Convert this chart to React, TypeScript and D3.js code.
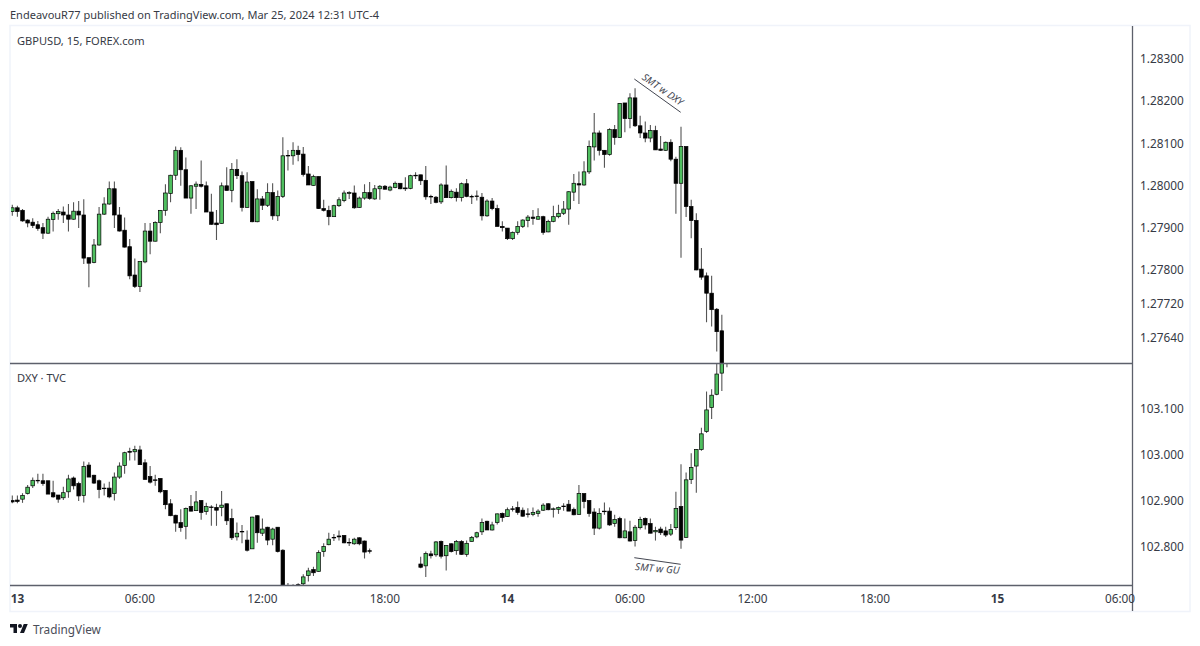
import * as d3 from "d3";
import React, { useEffect, useRef } from "react";

const gbpOpen = [
  1.27939, 1.27948, 1.27942, 1.27919, 1.27914, 1.27908, 1.27901, 1.27888, 1.2792, 1.27934,
  1.27938, 1.27931, 1.27921, 1.2794, 1.27931, 1.2783, 1.27819, 1.2786, 1.27933, 1.27957,
  1.27993, 1.27931, 1.27895, 1.27856, 1.27789, 1.27762, 1.2782, 1.27893, 1.27869, 1.27913,
  1.27942, 1.27982, 1.28025, 1.28084, 1.28038, 1.27971, 1.27999, 1.28003, 1.28, 1.27938,
  1.27912, 1.27911, 1.28, 1.27989, 1.28039, 1.28024, 1.27949, 1.2801, 1.27915, 1.27969,
  1.27954, 1.27984, 1.27929, 1.27975, 1.28072, 1.28071, 1.28084, 1.28075, 1.28028, 1.28001,
  1.28022, 1.27946, 1.27942, 1.27927, 1.27953, 1.27965, 1.27982, 1.27983, 1.27949, 1.27971,
  1.27984, 1.27969, 1.27993, 1.27999, 1.2799, 1.27996, 1.28006, 1.27995, 1.27994, 1.28025,
  1.28026, 1.28013, 1.27975, 1.27973, 1.27962, 1.28002, 1.27972, 1.27985, 1.27972, 1.28005,
  1.27974, 1.27976, 1.27973, 1.27929, 1.27964, 1.27946, 1.27904, 1.279, 1.27875, 1.2789,
  1.27904, 1.27918, 1.27926, 1.27921, 1.27927, 1.27891, 1.27916, 1.27927, 1.27935, 1.27945,
  1.27985, 1.28005, 1.28002, 1.28033, 1.28092, 1.28125, 1.28084, 1.28074, 1.28133, 1.28114,
  1.28196, 1.28159, 1.28208, 1.28142, 1.28125, 1.28113, 1.28131, 1.28087, 1.28084, 1.28103,
  1.28063, 1.28006, 1.28093, 1.27951, 1.27918, 1.27803, 1.27787, 1.27746, 1.27708, 1.27657,
];
const gbpHigh = [
  1.27955, 1.27953, 1.27945, 1.27921, 1.27923, 1.27917, 1.27912, 1.27927, 1.27939, 1.27945,
  1.27951, 1.27957, 1.27961, 1.27964, 1.27968, 1.2783, 1.27874, 1.2795, 1.27973, 1.2801,
  1.2801, 1.2795, 1.27925, 1.27874, 1.27828, 1.27821, 1.27912, 1.27912, 1.27916, 1.27943,
  1.28004, 1.28026, 1.28093, 1.28091, 1.28067, 1.28002, 1.2801, 1.2806, 1.2801, 1.27981,
  1.27943, 1.28008, 1.28044, 1.28054, 1.28063, 1.28034, 1.28032, 1.2801, 1.27992, 1.27976,
  1.28006, 1.28006, 1.27989, 1.28115, 1.28085, 1.28103, 1.28095, 1.28092, 1.28047, 1.28026,
  1.28022, 1.27967, 1.27953, 1.27955, 1.27973, 1.27989, 1.27987, 1.28001, 1.27975, 1.28004,
  1.28009, 1.28002, 1.28002, 1.28002, 1.28, 1.2801, 1.28006, 1.2802, 1.28026, 1.28032,
  1.28026, 1.28047, 1.27979, 1.27976, 1.28006, 1.28048, 1.27991, 1.27994, 1.28008, 1.28016,
  1.27979, 1.27989, 1.27983, 1.27968, 1.27971, 1.27955, 1.27916, 1.279, 1.27892, 1.27916,
  1.27921, 1.27931, 1.27943, 1.27947, 1.27929, 1.2792, 1.27953, 1.27955, 1.27964, 1.27987,
  1.28028, 1.28034, 1.28058, 1.28107, 1.28172, 1.28131, 1.28085, 1.28136, 1.28144, 1.28196,
  1.28196, 1.28219, 1.28231, 1.28166, 1.28152, 1.28144, 1.28142, 1.28118, 1.28105, 1.2811,
  1.28069, 1.2814, 1.28093, 1.27967, 1.27935, 1.27853, 1.27795, 1.27787, 1.27711, 1.27695,
];
const gbpLow = [
  1.27929, 1.27927, 1.27915, 1.27902, 1.279, 1.27894, 1.27874, 1.27886, 1.27892, 1.2792,
  1.27912, 1.27892, 1.2792, 1.279, 1.27815, 1.2776, 1.27817, 1.27858, 1.27931, 1.27955,
  1.279, 1.27892, 1.27854, 1.27779, 1.27758, 1.27749, 1.27817, 1.27838, 1.27868, 1.27888,
  1.27929, 1.27961, 1.28014, 1.28, 1.27971, 1.27934, 1.27945, 1.27996, 1.27938, 1.27908,
  1.27872, 1.2791, 1.27989, 1.27961, 1.28016, 1.27939, 1.27949, 1.27914, 1.27914, 1.27943,
  1.2795, 1.2792, 1.27917, 1.27971, 1.28036, 1.2805, 1.28058, 1.28022, 1.28002, 1.28,
  1.27945, 1.27939, 1.27907, 1.27926, 1.2795, 1.27961, 1.27969, 1.27946, 1.27948, 1.27967,
  1.27967, 1.27967, 1.27967, 1.27991, 1.27987, 1.27994, 1.27992, 1.27988, 1.27992, 1.28016,
  1.28002, 1.27967, 1.27957, 1.27959, 1.27957, 1.27971, 1.2797, 1.27963, 1.27963, 1.27973,
  1.27957, 1.27965, 1.27918, 1.27927, 1.27942, 1.27904, 1.27892, 1.27872, 1.27872, 1.27884,
  1.279, 1.27902, 1.27908, 1.2792, 1.27884, 1.2789, 1.27914, 1.27923, 1.27931, 1.27908,
  1.27964, 1.27957, 1.28, 1.28028, 1.2806, 1.28072, 1.28043, 1.28071, 1.28097, 1.28114,
  1.28127, 1.28136, 1.28139, 1.28113, 1.28103, 1.28103, 1.28085, 1.28083, 1.28083, 1.28058,
  1.27934, 1.2783, 1.27926, 1.27876, 1.278, 1.27778, 1.27677, 1.27667, 1.27608, 1.2757,
];
const gbpClose = [
  1.27948, 1.27939, 1.27917, 1.27912, 1.27906, 1.27899, 1.27888, 1.27921, 1.27935, 1.27939,
  1.27931, 1.27921, 1.2794, 1.27931, 1.27829, 1.27817, 1.2786, 1.27933, 1.27957, 1.27993,
  1.27931, 1.27893, 1.27855, 1.27787, 1.27762, 1.27821, 1.27893, 1.27869, 1.27913, 1.27942,
  1.27983, 1.28025, 1.28084, 1.28038, 1.27971, 1.28, 1.28004, 1.27999, 1.27938, 1.27909,
  1.27908, 1.28, 1.27989, 1.28039, 1.28024, 1.27949, 1.28009, 1.27915, 1.27969, 1.27954,
  1.27984, 1.27929, 1.27975, 1.28071, 1.28071, 1.28084, 1.28074, 1.28027, 1.28002, 1.28022,
  1.27946, 1.27942, 1.27927, 1.27953, 1.27967, 1.27983, 1.27984, 1.27948, 1.27971, 1.27984,
  1.2797, 1.27993, 1.27999, 1.27992, 1.27997, 1.28006, 1.27993, 1.27993, 1.28024, 1.28024,
  1.28012, 1.27974, 1.27974, 1.27961, 1.28002, 1.27972, 1.27987, 1.27972, 1.28005, 1.27975,
  1.27975, 1.27975, 1.27929, 1.27964, 1.27946, 1.27904, 1.27901, 1.27875, 1.2789, 1.27904,
  1.27919, 1.27926, 1.27923, 1.27927, 1.2789, 1.27916, 1.27927, 1.27935, 1.27945, 1.27986,
  1.28006, 1.28002, 1.28033, 1.28093, 1.28125, 1.28084, 1.28074, 1.28133, 1.28114, 1.28195,
  1.28159, 1.28208, 1.28142, 1.28125, 1.28113, 1.28131, 1.28085, 1.28084, 1.28103, 1.28063,
  1.28006, 1.28093, 1.27951, 1.27918, 1.27801, 1.27784, 1.27746, 1.27707, 1.27655, 1.27575,
];

const dxyOpen = [
  102.901, 102.902, 102.904, 102.916, 102.933, 102.945, 102.944, 102.944, 102.918, 102.913,
  102.907, 102.92, 102.95, 102.938, 102.912, 102.978, 102.956, 102.944, 102.928, 102.928,
  102.916, 102.952, 102.977, 103.008, 103.007, 103.011, 102.983, 102.953, 102.946, 102.949,
  102.923, 102.894, 102.869, 102.853, 102.845, 102.888, 102.879, 102.901, 102.877, 102.887,
  102.886, 102.886, 102.894, 102.862, 102.822, 102.834, 102.815, 102.796, 102.868, 102.83,
  102.843, 102.817, 102.843, 102.793, 102.7, 102.705, 102.718, 102.72, 102.738, 102.751,
  102.747, 102.79, 102.805, 102.821, 102.824, 102.825, 102.81, 102.807, 102.82, 102.813,
  102.792, null, null, null, null, null, null, null, null, null,
  102.763, 102.759, 102.785, 102.783, 102.812, 102.781, 102.807, 102.792, 102.812, 102.784,
  102.812, 102.822, 102.833, 102.856, 102.837, 102.853, 102.873, 102.866, 102.883, 102.886,
  102.88, 102.872, 102.871, 102.873, 102.88, 102.894, 102.882, 102.882, 102.889, 102.893,
  102.882, 102.871, 102.916, 102.901, 102.876, 102.841, 102.878, 102.878, 102.851, 102.862,
  102.82, 102.833, 102.814, 102.842, 102.862, 102.851, 102.833, 102.839, 102.835, 102.828,
  102.842, 102.888, 102.821, 102.947, 102.976, 103.012, 103.051, 103.103, 103.132, 103.178,
  103.196,
];
const dxyHigh = [
  102.912, 102.912, 102.917, 102.935, 102.951, 102.959, 102.959, 102.944, 102.944, 102.913,
  102.931, 102.957, 102.953, 102.942, 102.986, 102.984, 102.957, 102.947, 102.938, 102.942,
  102.962, 102.984, 103.007, 103.016, 103.02, 103.02, 102.991, 102.976, 102.957, 102.949,
  102.924, 102.904, 102.87, 102.882, 102.886, 102.913, 102.922, 102.902, 102.896, 102.891,
  102.894, 102.922, 102.894, 102.883, 102.853, 102.848, 102.836, 102.866, 102.869, 102.862,
  102.844, 102.842, 102.843, 102.795, 102.722, 102.719, 102.721, 102.741, 102.755, 102.757,
  102.793, 102.808, 102.831, 102.828, 102.836, 102.826, 102.819, 102.82, 102.821, 102.814,
  102.797, null, null, null, null, null, null, null, null, null,
  102.779, 102.79, 102.792, 102.813, 102.814, 102.804, 102.808, 102.815, 102.815, 102.814,
  102.824, 102.833, 102.862, 102.857, 102.855, 102.873, 102.875, 102.886, 102.889, 102.899,
  102.886, 102.884, 102.886, 102.882, 102.895, 102.895, 102.886, 102.888, 102.895, 102.902,
  102.886, 102.935, 102.917, 102.902, 102.884, 102.884, 102.897, 102.886, 102.87, 102.866,
  102.862, 102.857, 102.848, 102.866, 102.864, 102.862, 102.844, 102.844, 102.844, 102.85,
  102.92, 102.98, 102.962, 103.004, 103.013, 103.059, 103.138, 103.143, 103.207, 103.24,
  103.198,
];
const dxyLow = [
  102.895, 102.895, 102.896, 102.914, 102.928, 102.938, 102.933, 102.915, 102.907, 102.896,
  102.902, 102.907, 102.925, 102.9, 102.897, 102.952, 102.937, 102.906, 102.912, 102.906,
  102.901, 102.948, 102.959, 102.988, 102.988, 102.978, 102.946, 102.938, 102.933, 102.917,
  102.882, 102.867, 102.833, 102.833, 102.817, 102.877, 102.878, 102.859, 102.87, 102.846,
  102.846, 102.867, 102.848, 102.815, 102.814, 102.808, 102.79, 102.796, 102.809, 102.824,
  102.804, 102.804, 102.788, 102.705, 102.695, 102.695, 102.705, 102.715, 102.725, 102.737,
  102.746, 102.779, 102.804, 102.813, 102.814, 102.808, 102.802, 102.805, 102.804, 102.775,
  102.786, null, null, null, null, null, null, null, null, null,
  102.754, 102.735, 102.775, 102.779, 102.775, 102.749, 102.788, 102.783, 102.783, 102.779,
  102.812, 102.819, 102.826, 102.837, 102.836, 102.849, 102.855, 102.865, 102.877, 102.87,
  102.866, 102.864, 102.867, 102.866, 102.878, 102.88, 102.864, 102.872, 102.879, 102.878,
  102.869, 102.87, 102.884, 102.866, 102.826, 102.838, 102.87, 102.846, 102.844, 102.819,
  102.819, 102.812, 102.801, 102.838, 102.838, 102.83, 102.814, 102.826, 102.822, 102.824,
  102.837, 102.796, 102.82, 102.937, 102.918, 103.009, 103.048, 103.078, 103.13, 103.139,
  103.191,
];
const dxyClose = [
  102.898, 102.899, 102.912, 102.93, 102.945, 102.944, 102.938, 102.915, 102.909, 102.904,
  102.918, 102.948, 102.933, 102.911, 102.975, 102.952, 102.939, 102.925, 102.927, 102.909,
  102.952, 102.976, 103.005, 103.006, 103.012, 102.979, 102.947, 102.941, 102.945, 102.92,
  102.892, 102.868, 102.852, 102.842, 102.884, 102.878, 102.898, 102.875, 102.888, 102.886,
  102.88, 102.891, 102.857, 102.82, 102.83, 102.833, 102.793, 102.865, 102.831, 102.839,
  102.815, 102.839, 102.79, 102.71, 102.698, 102.702, 102.705, 102.735, 102.748, 102.744,
  102.788, 102.801, 102.817, 102.82, 102.822, 102.809, 102.809, 102.817, 102.807, 102.789,
  102.791, null, null, null, null, null, null, null, null, null,
  102.756, 102.786, 102.781, 102.811, 102.78, 102.803, 102.79, 102.812, 102.784, 102.808,
  102.821, 102.831, 102.853, 102.837, 102.848, 102.872, 102.864, 102.881, 102.882, 102.875,
  102.867, 102.871, 102.875, 102.878, 102.891, 102.881, 102.883, 102.886, 102.888, 102.878,
  102.87, 102.916, 102.899, 102.873, 102.841, 102.873, 102.877, 102.848, 102.86, 102.82,
  102.835, 102.813, 102.843, 102.86, 102.848, 102.83, 102.836, 102.831, 102.826, 102.838,
  102.884, 102.815, 102.946, 102.973, 103.012, 103.046, 103.098, 103.13, 103.176, 103.228,
  103.196,
];

const gbpTicks = [1.283, 1.282, 1.281, 1.28, 1.279, 1.278, 1.2772, 1.2764];
const dxyTicks = [103.1, 103.0, 102.9, 102.8];
const timeTicks = [1, 25, 49, 73, 97, 121, 145, 169, 193, 217];
const timeLabels = ["13", "06:00", "12:00", "18:00", "14", "06:00", "12:00", "18:00", "15", "06:00"];

const font = "'Noto Sans', sans-serif";
const textColor = "#363a45";

function drawCandles(g, opens, highs, lows, closes, x, y) {
  const data = opens
    .map((o, i) => ({ i, o, h: highs[i], l: lows[i], c: closes[i] }))
    .filter((d) => d.o !== null);

  g.selectAll("line.wick")
    .data(data)
    .join("line")
    .attr("class", "wick")
    .attr("x1", (d) => x(d.i))
    .attr("x2", (d) => x(d.i))
    .attr("y1", (d) => y(d.h))
    .attr("y2", (d) => y(d.l))
    .attr("stroke", "#555")
    .attr("stroke-width", 1.1);

  g.selectAll("rect.body")
    .data(data.filter((d) => d.o !== d.c))
    .join("rect")
    .attr("class", "body")
    .attr("x", (d) => x(d.i) - 1.8)
    .attr("width", 3.6)
    .attr("y", (d) => y(Math.max(d.o, d.c)))
    .attr("height", (d) => Math.max(0.6, Math.abs(y(d.o) - y(d.c))))
    .attr("fill", (d) => (d.c > d.o ? "#4fbf5f" : "#000"))
    .attr("stroke", "#000")
    .attr("stroke-width", 0.7);
}

function drawChart(element) {
  const svg = d3.select(element);
  svg.selectAll("*").remove();

  const x = d3.scaleLinear().domain([0, 217]).range([12.3, 1120]);
  const yGbp = d3.scaleLinear().domain([1.2764, 1.283]).range([338, 59]);
  const yDxy = d3.scaleLinear().domain([102.8, 103.1]).range([547, 409]);

  svg.append("rect").attr("width", 1200).attr("height", 646).attr("fill", "#fff");

  // outer frame
  svg
    .append("rect")
    .attr("x", 10)
    .attr("y", 25.5)
    .attr("width", 1180)
    .attr("height", 586)
    .attr("fill", "#fff")
    .attr("stroke", "#f0f3fa")
    .attr("stroke-width", 1.5);

  const defs = svg.append("defs");
  defs
    .append("clipPath")
    .attr("id", "clip-top")
    .append("rect")
    .attr("x", 11)
    .attr("y", 26)
    .attr("width", 1121)
    .attr("height", 337.5);
  defs
    .append("clipPath")
    .attr("id", "clip-bottom")
    .append("rect")
    .attr("x", 11)
    .attr("y", 364)
    .attr("width", 1121)
    .attr("height", 221);

  drawCandles(
    svg.append("g").attr("clip-path", "url(#clip-top)"),
    gbpOpen, gbpHigh, gbpLow, gbpClose, x, yGbp
  );
  drawCandles(
    svg.append("g").attr("clip-path", "url(#clip-bottom)"),
    dxyOpen, dxyHigh, dxyLow, dxyClose, x, yDxy
  );

  // pane separators and price axis line
  const rule = "#5d606b";
  const ruleWidth = 1.3;
  svg.append("line").attr("x1", 10).attr("x2", 1133).attr("y1", 363.5).attr("y2", 363.5).attr("stroke", rule).attr("stroke-width", ruleWidth);
  svg.append("line").attr("x1", 10).attr("x2", 1133).attr("y1", 585.5).attr("y2", 585.5).attr("stroke", rule).attr("stroke-width", ruleWidth);
  svg.append("line").attr("x1", 1132.5).attr("x2", 1132.5).attr("y1", 26).attr("y2", 611).attr("stroke", rule).attr("stroke-width", ruleWidth);

  // price labels
  const priceAxis = (ticks, scale, fmt) =>
    svg
      .append("g")
      .selectAll("text")
      .data(ticks)
      .join("text")
      .attr("x", 1140)
      .attr("y", (d) => scale(d))
      .attr("dy", "0.35em")
      .attr("font-size", 11.8)
      .attr("font-family", font)
      .attr("fill", textColor)
      .text((d) => d3.format(fmt)(d));
  priceAxis(gbpTicks, yGbp, ".5f");
  priceAxis(dxyTicks, yDxy, ".3f");

  // time labels
  svg
    .append("g")
    .selectAll("text")
    .data(timeTicks)
    .join("text")
    .attr("x", (d) => x(d))
    .attr("y", 602.5)
    .attr("text-anchor", "middle")
    .attr("font-size", 11.8)
    .attr("font-family", font)
    .attr("font-weight", (d, i) => (timeLabels[i].includes(":") ? 400 : 700))
    .attr("fill", textColor)
    .text((d, i) => timeLabels[i]);

  const label = (t, px, py, size = 11, fill = textColor) =>
    svg
      .append("text")
      .attr("x", px)
      .attr("y", py)
      .attr("font-size", size)
      .attr("font-family", font)
      .attr("fill", fill)
      .text(t);

  label("EndeavouR77 published on TradingView.com, Mar 25, 2024 12:31 UTC-4", 10, 19);
  label("GBPUSD, 15, FOREX.com", 17, 45, 11.1);
  label("DXY · TVC", 17, 382, 11.1);

  // drawn annotations
  const noteColor = "#434651";
  svg.append("line").attr("x1", 634.3).attr("y1", 79).attr("x2", 680.7).attr("y2", 112.3).attr("stroke", noteColor);
  svg.append("line").attr("x1", 634.3).attr("y1", 557.7).attr("x2", 680.7).attr("y2", 564.3).attr("stroke", noteColor);

  const note = (t, cx, cy, angle) =>
    svg
      .append("text")
      .attr("transform", "translate(" + cx + "," + cy + ") rotate(" + angle + ")")
      .attr("text-anchor", "middle")
      .attr("dy", "0.35em")
      .attr("font-size", 10)
      .attr("font-style", "italic")
      .attr("font-family", font)
      .attr("fill", noteColor)
      .text(t);
  note("SMT w DXY", 662.7, 89.5, 35);
  note("SMT w GU", 657.3, 568.5, 5);

  // logo
  const logo = svg.append("g").attr("transform", "translate(10,622) scale(0.5)").attr("fill", "#131722");
  logo.append("path").attr("d", "M14 22H7V11H0V4h14v18zM28 22h-8l7.5-18h8L28 22z");
  logo.append("circle").attr("cx", 20).attr("cy", 8).attr("r", 4);
  label("TradingView", 33, 634, 11.8, "#4a4e59");
}

export default function App() {
  const ref = useRef(null);

  useEffect(() => {
    drawChart(ref.current);
  }, []);

  return (
    <svg
      ref={ref}
      width={1200}
      height={646}
      style={{ position: "absolute", left: 0, top: 0 }}
    />
  );
}
